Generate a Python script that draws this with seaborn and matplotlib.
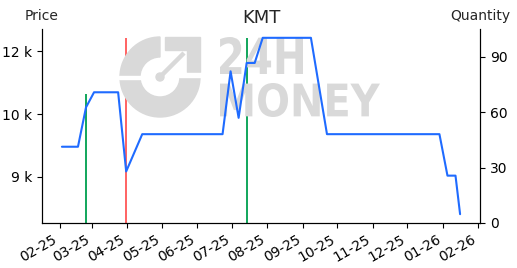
import numpy as np
import pandas as pd
import matplotlib
matplotlib.use("Agg")
import matplotlib.pyplot as plt
import matplotlib.dates as mdates
import matplotlib.transforms as mtransforms
from matplotlib.patches import Wedge, Polygon, Circle, Rectangle, PathPatch
from matplotlib.lines import Line2D
from matplotlib.textpath import TextPath
from matplotlib.font_manager import FontProperties
from matplotlib.ticker import FuncFormatter, FixedLocator
import seaborn as sns

# ---- data ----
price_dates = ["2025-02-03", "2025-02-17", "2025-02-24", "2025-03-03", "2025-03-24",
               "2025-03-31", "2025-04-14", "2025-06-23", "2025-06-30", "2025-07-07",
               "2025-07-14", "2025-07-21", "2025-07-28", "2025-09-08", "2025-09-22",
               "2025-12-29", "2026-01-05", "2026-01-12", "2026-01-16"]
price_values = [9720, 9720, 10660, 11020, 11020,
                9130, 10020, 10020, 11520, 10410,
                11720, 11720, 12320, 12320, 10020,
                10020, 9030, 9030, 8110]
trade_dates = ["2025-02-24", "2025-03-31", "2025-07-14"]
trade_qty = [70, 100, 100]
trade_side = ["buy", "sell", "buy"]
price_ticks = [9000, 10500, 12000]
qty_ticks = [0, 30, 60, 90]
title = "KMT"

# ---- style ----
sns.set_style("white")
plt.rcParams['font.family'] = ['DejaVu Sans']

W, H = 517, 268
fig = plt.figure(figsize=(W / 100, H / 100), dpi=100)
ax = fig.add_axes([42 / W, (H - 223) / H, (480 - 42) / W, (223 - 29) / H])
ax2 = ax.twinx()

df = pd.DataFrame({"date": pd.to_datetime(price_dates), "price": price_values})
tdf = pd.DataFrame({"date": pd.to_datetime(trade_dates), "qty": trade_qty, "side": trade_side})

side_colors = {"buy": "#17a85f", "sell": "#ff6666"}
ax2.bar(tdf["date"], tdf["qty"], width=2.0, linewidth=0,
        color=[side_colors[s] for s in tdf["side"]], zorder=2)

sns.lineplot(data=df, x="date", y="price", ax=ax, color="#1f6bff", linewidth=1.5, zorder=5)

# put price axes on top of quantity axes
ax.set_zorder(ax2.get_zorder() + 1)
ax.patch.set_visible(False)

ax.yaxis.set_major_locator(FixedLocator(price_ticks))
ax.yaxis.set_major_formatter(FuncFormatter(lambda v, p: f"{v / 1000:.0f} k"))
ax2.yaxis.set_major_locator(FixedLocator(qty_ticks))
ax2.set_ylim(0, max(trade_qty) * 1.05)

ax.xaxis.set_major_locator(mdates.MonthLocator())
ax.xaxis.set_major_formatter(mdates.DateFormatter("%m-%y"))
for lbl in ax.get_xticklabels():
    lbl.set_rotation(30)
    lbl.set_ha("right")

ax.set_xlabel("")
ax.set_ylabel("")
for a in (ax, ax2):
    a.tick_params(axis="both", which="both", length=3.5, width=0.8, labelsize=10,
                  direction="out", colors="black")
    a.spines["top"].set_visible(False)
    for s in ("left", "right", "bottom"):
        a.spines[s].set_color("black")
        a.spines[s].set_linewidth(0.8)
ax.tick_params(axis="both", left=True, bottom=True)
ax2.tick_params(axis="y", right=True)

ax.set_title(title, fontsize=13, pad=4)
ax.annotate("Price", xy=(0, 1), xycoords="axes fraction", xytext=(0, 4),
            textcoords="offset points", ha="center", va="bottom", fontsize=10)
ax2.annotate("Quantity", xy=(1, 1), xycoords="axes fraction", xytext=(0, 4),
             textcoords="offset points", ha="center", va="bottom", fontsize=10)

# ---- watermark (24H MONEY), pixel coords with y measured from the top ----
pix = mtransforms.Affine2D().scale(1 / W, -1 / H).translate(0, 1) + fig.transFigure
wm = "#d9d9d9"
zw = 0.5
cx, cy, r_out, r_in = 160, 77, 40, 20
# in y-flipped coords, display angle a -> -a
fig.patches.append(Wedge((cx, cy), r_out, 0, 180, width=r_out - r_in, transform=pix,
                         color=wm, zorder=zw))          # bottom half on screen
fig.patches.append(Wedge((cx, cy), r_out, 180, 270, width=r_out - r_in, transform=pix,
                         color=wm, zorder=zw))          # top-left quadrant on screen
fig.patches.append(Rectangle((cx - r_out - 1, cy - 1.5), r_out - r_in + 2, 3, transform=pix,
                             color="white", zorder=zw + 0.01))
fig.patches.append(Rectangle((cx + r_in - 1, cy - 4), r_out - r_in + 2, 4, transform=pix,
                             color="white", zorder=zw + 0.01))
fig.patches.append(Polygon([(165, 37), (200, 37), (200, 72), (187, 72), (187, 50), (165, 50)],
                           closed=True, transform=pix, color=wm, zorder=zw))
fig.lines.append(Line2D([cx, 184], [cy, 53], transform=pix, color=wm, linewidth=3.2,
                        solid_capstyle="butt", zorder=zw))
fig.patches.append(Circle((cx, cy), 4, transform=pix, color=wm, zorder=zw))


def fit_text(s, x0, x1, y0, y1):
    tp = TextPath((0, 0), s, size=1, prop=FontProperties(family="DejaVu Sans", weight="bold"))
    ext = tp.get_extents()
    sx = (x1 - x0) / ext.width
    sy = (y1 - y0) / ext.height
    tr = (mtransforms.Affine2D().translate(-ext.x0, -ext.y0).scale(sx, -sy)
          .translate(x0, y1) + pix)
    fig.patches.append(PathPatch(tp, transform=tr, color=wm, linewidth=0, zorder=zw))


fit_text("24H", 220, 303, 37, 74)
fit_text("MONEY", 220, 380, 83, 117)

fig.savefig("out.png", dpi=100)
